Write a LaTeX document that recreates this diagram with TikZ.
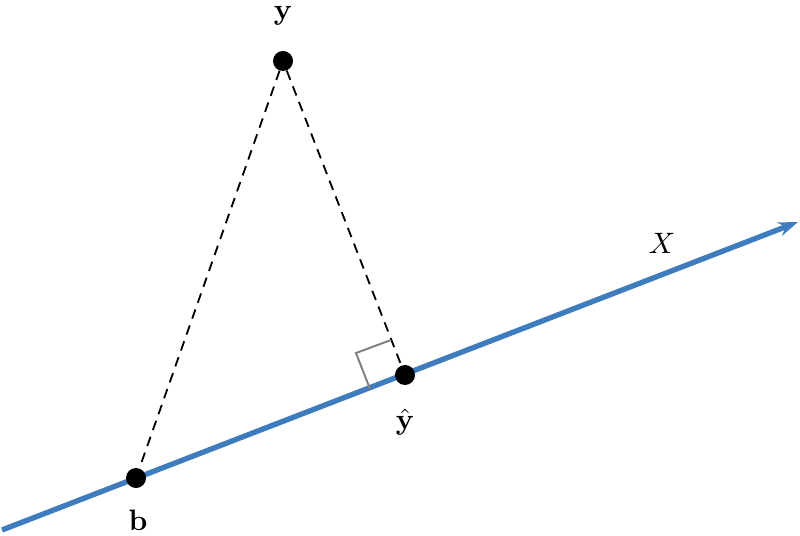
\documentclass[tikz,border=0pt]{standalone}
\usepackage{amsmath}
\usetikzlibrary{arrows.meta}
\definecolor{lineblue}{RGB}{62,124,190}
\newcommand{\biglbl}[1]{\scalebox{2.1}{#1}}
\begin{document}
\begin{tikzpicture}[x=0.025cm,y=-0.025cm,
  dot/.style={circle,fill=black,inner sep=0pt,minimum size=0.5cm},
  lbl/.style={inner sep=0pt},
  dashedline/.style={dashed,line width=1.3pt,dash pattern=on 7pt off 5pt}]
\useasboundingbox (0,0) rectangle (800,536);
\coordinate (s) at (2,530);
\coordinate (e) at (798,222);
\draw[lineblue,line width=3.8pt,-{Stealth[length=14pt,width=10pt]}] (s) -- (e);
\node[dot] (b) at (136,478) {};
\node[dot] (yh) at (405,375) {};
\node[dot] (y) at (283,61) {};
\draw[dashedline] (y) -- (b);
\draw[dashedline] (y) -- (yh);
\draw[gray,line width=1.4pt] (391,340) -- (356,353) -- (370,389);
\node[lbl] (ly) at (283,16) {\biglbl{$\mathbf{y}$}};
\node[lbl] (lyh) at (405,422) {\biglbl{$\hat{\mathbf{y}}$}};
\node[lbl] (lb) at (138,520) {\biglbl{$\mathbf{b}$}};
\node[lbl] (lx) at (662,243) {\biglbl{$X$}};
\end{tikzpicture}
\end{document}
